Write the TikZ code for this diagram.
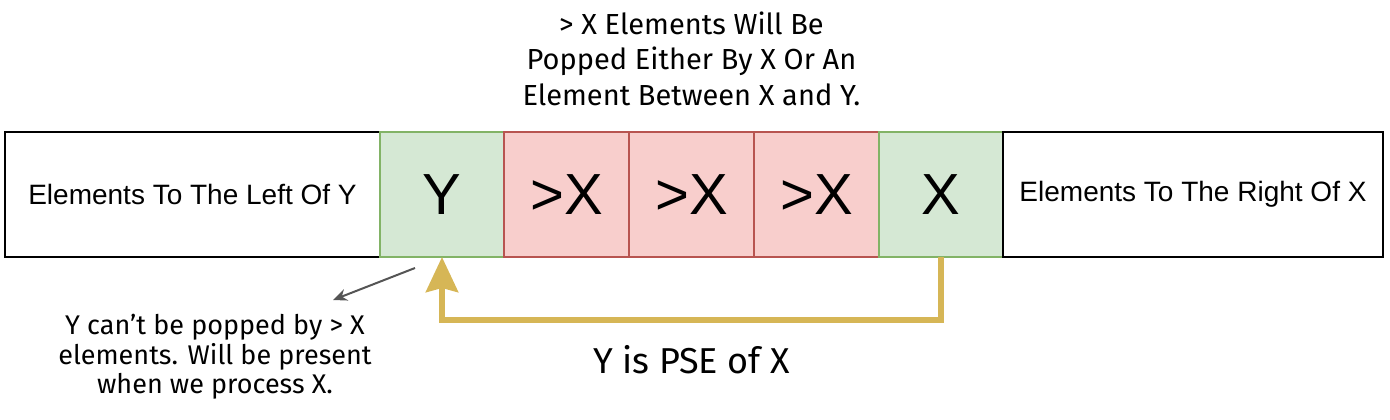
\documentclass[tikz,border=0pt]{standalone}
\usepackage{fontspec}
\setmainfont{Liberation Sans}
\newfontfamily\handfont{Fira Sans}
\usetikzlibrary{positioning,arrows.meta}
\definecolor{cellgreen}{HTML}{D5E8D4}
\definecolor{edgegreen}{HTML}{82B366}
\definecolor{cellred}{HTML}{F8CECC}
\definecolor{edgered}{HTML}{B85450}
\definecolor{gold}{HTML}{D6B656}
\definecolor{pointer}{HTML}{555555}
\tikzstyle{side} = [rectangle, draw=black, line width=1.5pt, fill=white, minimum height=125pt, inner sep=0pt, outer sep=0pt, font=\fontsize{28}{32}\selectfont]
\tikzstyle{markbox} = [rectangle, draw=edgegreen, line width=1.2pt, fill=cellgreen, minimum width=124pt, minimum height=125pt, inner sep=0pt, outer sep=0pt, font=\fontsize{58}{62}\selectfont]
\tikzstyle{bigger} = [rectangle, draw=edgered, line width=1.2pt, fill=cellred, minimum width=125pt, minimum height=125pt, inner sep=0pt, outer sep=0pt, font=\fontsize{58}{62}\selectfont]
\tikzstyle{hand} = [align=center, inner sep=0pt, font=\handfont\fontsize{27}{29.5}\selectfont]
\tikzstyle{pse} = [line width=6pt, draw=gold, -{Stealth[length=35pt,width=32pt,inset=4pt]}]
\tikzstyle{arrow} = [line width=2pt, draw=pointer, -{Stealth[length=14pt,width=12pt]}]

\begin{document}
\begin{tikzpicture}[x=1pt, y=1pt]
  \useasboundingbox (0,0) rectangle (1390,-420);

  \node (left) [side, minimum width=375pt] at (192.5,-194.5) {Elements To The Left Of Y};
  \node (ybox) [markbox, right=0pt of left] {Y};
  \node (gt1) [bigger, right=0pt of ybox] {>X};
  \node (gt2) [bigger, right=0pt of gt1] {>X};
  \node (gt3) [bigger, right=0pt of gt2] {>X};
  \node (xbox) [markbox, right=0pt of gt3] {X};
  \node (right) [side, minimum width=380pt, right=0pt of xbox] {Elements To The Right Of X};

  \node (popped) [hand, font=\handfont\fontsize{29}{35.5}\selectfont, above=26pt of gt2] {> X Elements Will Be\\ Popped Either By X Or An\\ Element Between X and Y.};

  \draw [pse] (xbox.south) -- ++(0,-63) -| (ybox.south);
  \node (pselabel) [hand, font=\handfont\fontsize{36}{40}\selectfont] at ([yshift=-103pt]gt2.south) {Y is PSE of X};

  \node (note) [hand] at (215,-357) {Y can’t be popped by > X\\ elements. Will be present\\ when we process X.};
  \coordinate (tail) at (415,-268);
  \coordinate (tip) at (333,-300);
  \draw [arrow] (tail) -- (tip);
\end{tikzpicture}
\end{document}
